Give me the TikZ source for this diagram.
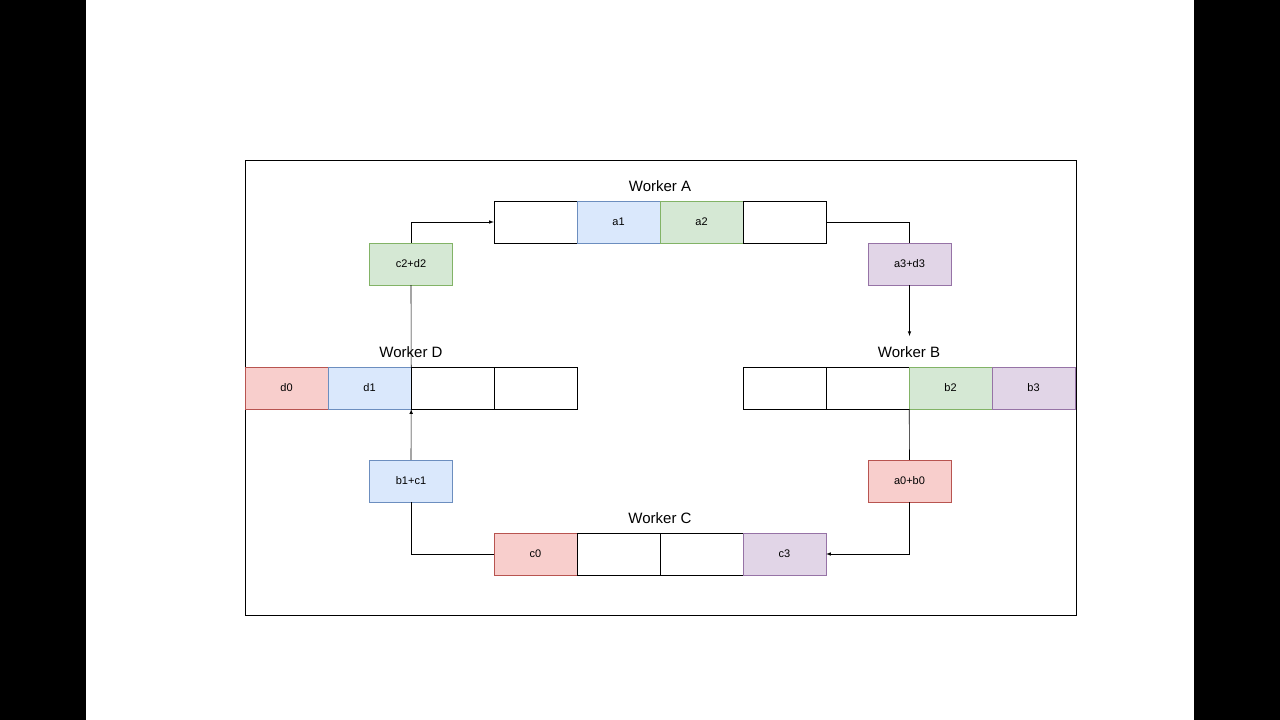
\documentclass[tikz,border=0pt]{standalone}
\usepackage{fontspec}
\setmainfont{Liberation Sans}
\usetikzlibrary{positioning}
\definecolor{redF}{HTML}{F8CECC}\definecolor{redD}{HTML}{B85450}
\definecolor{bluF}{HTML}{DAE8FC}\definecolor{bluD}{HTML}{6C8EBF}
\definecolor{grnF}{HTML}{D5E8D4}\definecolor{grnD}{HTML}{82B366}
\definecolor{prpF}{HTML}{E1D5E7}\definecolor{prpD}{HTML}{9673A6}
\begin{document}
\begin{tikzpicture}[x=1pt,y=-1pt,
                    cell/.style={draw,rectangle,minimum width=83pt,minimum height=42pt,inner sep=0pt,font=\fontsize{11}{13}\selectfont},
                    red cell/.style={cell,fill=redF,draw=redD},
                    blue cell/.style={cell,fill=bluF,draw=bluD},
                    green cell/.style={cell,fill=grnF,draw=grnD},
                    purple cell/.style={cell,fill=prpF,draw=prpD},
                    worker/.style={font=\fontsize{15}{18}\selectfont},
                    flow/.style={-latex,semithick}]
\fill[black] (0,0) rectangle (1280,720);
\fill[white] (86,0) rectangle (1194,720);
\draw (245,160) rectangle (1076,615);
% worker A
\foreach \i/\s/\t in {0/cell/,1/blue cell/a1,2/green cell/a2,3/cell/}
   \node[\s] (A\i) at (535.5+83*\i,222) {\t};
% worker D
\foreach \i/\s/\t in {0/red cell/d0,1/blue cell/d1,2/cell/,3/cell/}
   \node[\s] (D\i) at (286.5+83*\i,388) {\t};
% worker B
\foreach \i/\s/\t in {0/cell/,1/cell/,2/green cell/b2,3/purple cell/b3}
   \node[\s] (B\i) at (784.5+83*\i,388) {\t};
% worker C
\foreach \i/\s/\t in {0/red cell/c0,1/cell/,2/cell/,3/purple cell/c3}
   \node[\s] (C\i) at (535.5+83*\i,554) {\t};
\node[worker] (ALabel) at (660,186) {Worker A};
\node[worker] (DLabel) at (411,352) {Worker D};
\node[worker] (BLabel) at (909,352) {Worker B};
\node[worker] (CLabel) at (660,518) {Worker C};
% partial sums in flight
\node[green cell] (CD) at (411,264) {c2+d2};
\node[purple cell] (AD) at (909.5,264) {a3+d3};
\node[blue cell] (BC) at (411,481) {b1+c1};
\node[red cell] (AB) at (909.5,481) {a0+b0};
\coordinate (BIn) at (909.5,336);
\draw[semithick] (D1.north east) -- (CD.south);
\draw[flow] (CD.north) |- (A0.west);
\draw[semithick] (A3.east) -| (AD.north);
\draw[flow] (AD.south) -- (BIn);
\draw[semithick] (B1.south east) -- (AB.north);
\draw[flow] (AB.south) |- (C3.east);
\draw[semithick] (C0.west) -| (BC.south);
\draw[flow] (BC.north) -- (D1.south east);
\end{tikzpicture}
\end{document}
